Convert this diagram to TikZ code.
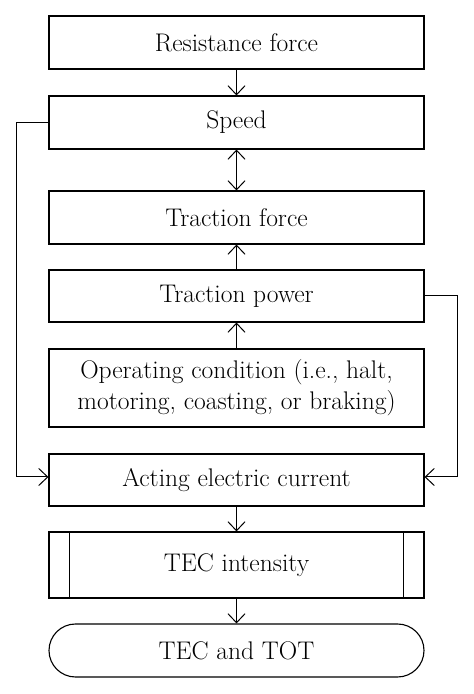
\documentclass[tikz,border=0pt]{standalone}
\usetikzlibrary{arrows.meta}
\begin{document}
\begin{tikzpicture}[x=1pt,y=1pt,
  box/.style={draw, line width=1.1pt, minimum width=375pt, inner sep=0pt, align=center, font=\fontsize{25.5}{31}\selectfont},
  arr/.style={line width=1pt, -{Straight Barb[length=9pt,width=17pt,line width=1pt]}},
  darr/.style={line width=1pt, {Straight Barb[length=9pt,width=17pt,line width=1pt]}-{Straight Barb[length=9pt,width=17pt,line width=1pt]}},
  lin/.style={line width=1pt}]
\useasboundingbox (0,0) rectangle (474,694);
\node[box, minimum height=53pt] (res) at (236.5,651.5) {Resistance force};
\node[box, minimum height=53pt] (speed) at (236.5,571.5) {Speed};
\node[box, minimum height=53pt] (tforce) at (236.5,476.5) {Traction force};
\node[box, minimum height=52pt] (tpower) at (236.5,398) {Traction power};
\node[box, minimum height=78pt] (oper) at (236.5,306) {Operating condition (i.e., halt,\\motoring, coasting, or braking)};
\node[box, minimum height=52pt] (act) at (236.5,214) {Acting electric current};
\node[box, minimum height=66pt] (tec) at (236.5,129) {TEC intensity};
\node[box, minimum height=53pt, rounded corners=26.5pt] (tot) at (236.5,43.5) {TEC and TOT};
\draw[lin] ([xshift=21pt]tec.north west) -- ([xshift=21pt]tec.south west);
\draw[lin] ([xshift=-21pt]tec.north east) -- ([xshift=-21pt]tec.south east);
\coordinate (lx) at (16,0);
\coordinate (rx) at (457,0);
\draw[arr] (res) -- (speed);
\draw[darr] (speed) -- (tforce);
\draw[arr] (tpower) -- (tforce);
\draw[arr] (oper) -- (tpower);
\draw[arr] (act) -- (tec);
\draw[arr] (tec) -- (tot);
\draw[arr] (speed.west) -- (speed.west -| lx) -- ([yshift=3pt]act.west -| lx) -- ([yshift=3pt]act.west);
\draw[arr] (tpower.east) -- (tpower.east -| rx) -- ([yshift=3pt]act.east -| rx) -- ([yshift=3pt]act.east);
\end{tikzpicture}
\end{document}
